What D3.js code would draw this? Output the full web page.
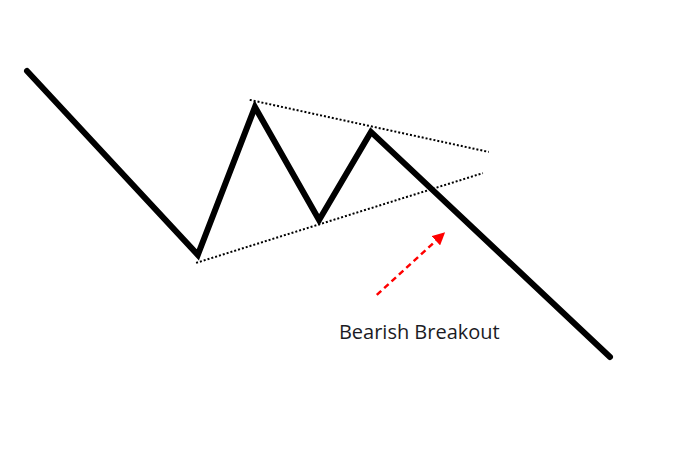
<!DOCTYPE html>
<html>
<head>
<meta charset="utf-8">
<script src="https://cdn.jsdelivr.net/npm/d3@7"></script>
<style>
  html, body { margin: 0; padding: 0; background: #fff; }
  svg { display: block; }
</style>
</head>
<body>
<svg id="chart" width="683" height="469"></svg>
<script>
// price path (time index, price)
const pathTimes  = [0, 29.3, 39.1, 50.1, 59.0, 100];
const pathPrices = [100, 35.7, 87.4, 47.9, 78.7, 0];

// trend lines of the triangle
const upperTimes  = [38.2, 79.2];
const upperPrices = [89.9, 71.7];
const lowerTimes  = [29.0, 78.2];
const lowerPrices = [32.9, 64.3];

// breakout arrow and label
const arrowTimes  = [60.0, 71.4];
const arrowPrices = [21.7, 43.0];
const labelText = "Bearish Breakout";
const labelTime = 53.5;
const labelPrice = 6.3;

const svg = d3.select("#chart");

const x = d3.scaleLinear().domain([0, 100]).range([27, 610]);
const y = d3.scaleLinear().domain([0, 100]).range([357, 71]);

const line = d3.line().x(d => x(d[0])).y(d => y(d[1]));

svg.append("defs").append("marker")
    .attr("id", "head")
    .attr("viewBox", "0 0 10 10")
    .attr("refX", 8).attr("refY", 5)
    .attr("markerWidth", 5).attr("markerHeight", 5)
    .attr("markerUnits", "strokeWidth")
    .attr("orient", "auto")
  .append("path")
    .attr("d", "M0,0 L10,5 L0,10 z")
    .attr("fill", "#ff0000");

// dotted trend lines
[[upperTimes, upperPrices], [lowerTimes, lowerPrices]].forEach(([t, p]) => {
  svg.append("path")
      .attr("d", line(d3.zip(t, p)))
      .attr("fill", "none")
      .attr("stroke", "#000")
      .attr("stroke-width", 2)
      .attr("stroke-dasharray", "2,2");
});

// main price line
svg.append("path")
    .attr("d", line(d3.zip(pathTimes, pathPrices)))
    .attr("fill", "none")
    .attr("stroke", "#000")
    .attr("stroke-width", 6)
    .attr("stroke-linejoin", "miter")
    .attr("stroke-linecap", "round");

// red dashed arrow
svg.append("path")
    .attr("d", line(d3.zip(arrowTimes, arrowPrices)))
    .attr("fill", "none")
    .attr("stroke", "#ff0000")
    .attr("stroke-width", 2.5)
    .attr("stroke-dasharray", "6,4")
    .attr("marker-end", "url(#head)");

svg.append("text")
    .attr("x", x(labelTime))
    .attr("y", y(labelPrice))
    .attr("font-family", "'Open Sans', sans-serif")
    .attr("font-size", 20)
    .attr("fill", "#1b1b24")
    .text(labelText);
</script>
</body>
</html>
